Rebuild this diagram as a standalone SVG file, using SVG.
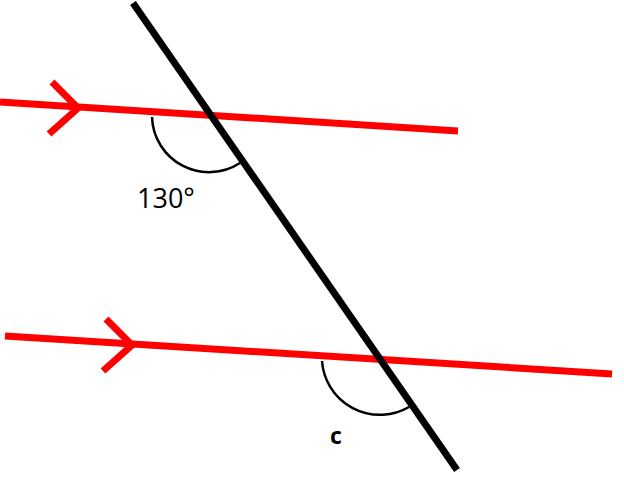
<svg xmlns="http://www.w3.org/2000/svg" width="624" height="480" viewBox="0 0 624 480">
<style>
.red{stroke:#ff0000;stroke-width:7;fill:none}
.blk{stroke:#000;stroke-width:7;fill:none}
.arc{stroke:#000;stroke-width:2.5;fill:none}
.lbl{font-family:"Open Sans","Liberation Sans",sans-serif;fill:#000}
</style>
<rect width="624" height="480" fill="#fff"/>
<g id="lines">
<line class="red" x1="0" y1="102" x2="458" y2="131"/>
<polyline class="red" points="52,82 78,108 49,134"/>
<line class="red" x1="5" y1="336" x2="612" y2="374"/>
<polyline class="red" points="106,319 132,345 103,371"/>
<line class="blk" x1="133" y1="3" x2="457" y2="470"/>
</g>
<g id="angles">
<path class="arc" d="M152,117 A57,57 0 0,0 240,163"/>
<path class="arc" d="M322,361 A58,58 0 0,0 409,407"/>
</g>
<text class="lbl" x="137" y="208" font-size="27">130°</text>
<text class="lbl" x="330" y="444" font-size="23" font-weight="bold">c</text>
</svg>
